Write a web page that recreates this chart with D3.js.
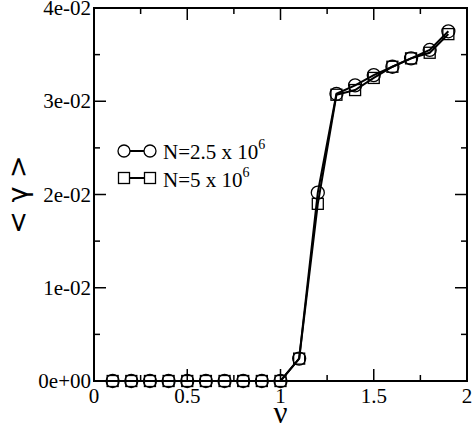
<!DOCTYPE html>
<html>
<head>
<meta charset="utf-8">
<script src="https://cdn.jsdelivr.net/npm/d3@7"></script>
<style>
  body { margin: 0; background: #fff; }
</style>
</head>
<body>
<div id="chart"></div>
<script>
// data
var nu = [0.1, 0.2, 0.3, 0.4, 0.5, 0.6, 0.7, 0.8, 0.9, 1.0, 1.1, 1.2, 1.3, 1.4, 1.5, 1.6, 1.7, 1.8, 1.9];
var gammaSmall = [0, 0, 0, 0, 0, 0, 0, 0, 0, 0, 0.0024, 0.0202, 0.0308, 0.0317, 0.0328, 0.0337, 0.0346, 0.0355, 0.0375];
var gammaLarge = [0, 0, 0, 0, 0, 0, 0, 0, 0, 0, 0.0024, 0.0190, 0.0307, 0.0312, 0.0325, 0.0337, 0.0346, 0.0352, 0.0372];
var xTicks = [0, 0.5, 1, 1.5, 2];
var yTicks = [0, 0.01, 0.02, 0.03, 0.04];
var yTickLabels = ["0e+00", "1e-02", "2e-02", "3e-02", "4e-02"];

var W = 474, H = 427;
var margin = {top: 8, right: 7, bottom: 46, left: 94},
    width = W - margin.left - margin.right,
    height = H - margin.top - margin.bottom;

var root = d3.select("#chart")
    .append("svg")
    .attr("width", W)
    .attr("height", H)
    .attr("font-family", "'Liberation Serif', 'Times New Roman', 'DejaVu Serif', serif");
var svg = root.append("g")
    .attr("transform", "translate(" + margin.left + "," + margin.top + ")");

var x = d3.scaleLinear().domain([0, 2]).range([0, width]);
var y = d3.scaleLinear().domain([0, 0.04]).range([height, 0]);

// frame
svg.append("rect")
    .attr("width", width).attr("height", height)
    .attr("fill", "none").attr("stroke", "#000").attr("stroke-width", 2);

// ticks, inward on all four sides
var xMinor = d3.range(0.25, 2, 0.5);
var yMinor = d3.range(0.005, 0.04, 0.01);
function tick(g, x1, y1, x2, y2) {
    g.append("line").attr("x1", x1).attr("y1", y1).attr("x2", x2).attr("y2", y2)
        .attr("stroke", "#000").attr("stroke-width", 1.5);
}
var tg = svg.append("g");
xTicks.slice(1, -1).forEach(function (t) {
    tick(tg, x(t), height, x(t), height - 12);
    tick(tg, x(t), 0, x(t), 12);
});
xMinor.forEach(function (t) {
    tick(tg, x(t), height, x(t), height - 6);
    tick(tg, x(t), 0, x(t), 6);
});
yTicks.slice(1, -1).forEach(function (t) {
    tick(tg, 0, y(t), 12, y(t));
    tick(tg, width, y(t), width - 12, y(t));
});
yMinor.forEach(function (t) {
    tick(tg, 0, y(t), 6, y(t));
    tick(tg, width, y(t), width - 6, y(t));
});

// tick labels
svg.selectAll(".xl").data(xTicks).enter().append("text")
    .attr("x", function (d) { return x(d); })
    .attr("y", height + 22)
    .attr("text-anchor", "middle")
    .attr("font-size", 21)
    .text(function (d) { return d3.format("")(d); });

svg.selectAll(".yl").data(yTicks).enter().append("text")
    .attr("x", -3)
    .attr("y", function (d) { return y(d) + 7; })
    .attr("text-anchor", "end")
    .attr("font-size", 21)
    .text(function (d, i) { return yTickLabels[i]; });

// axis titles
svg.append("text")
    .attr("x", x(1)).attr("y", height + 42)
    .attr("text-anchor", "middle")
    .attr("font-size", 31)
    .text("\u03bd");
svg.append("text")
    .attr("transform", "translate(" + (-67) + "," + y(0.02) + ") rotate(-90)")
    .attr("text-anchor", "middle")
    .attr("font-size", 27)
    .attr("font-family", "DejaVu Sans")
    .text("< \u03b3 >");

var line = d3.line()
    .x(function (d) { return x(d[0]); })
    .y(function (d) { return y(d[1]); });

var s1 = d3.zip(nu, gammaSmall);
var s2 = d3.zip(nu, gammaLarge);

svg.append("path").datum(s2).attr("d", line)
    .attr("fill", "none").attr("stroke", "#000").attr("stroke-width", 2);
svg.append("path").datum(s1).attr("d", line)
    .attr("fill", "none").attr("stroke", "#000").attr("stroke-width", 2);

svg.selectAll(".sq").data(s2).enter().append("rect")
    .attr("x", function (d) { return x(d[0]) - 5.5; })
    .attr("y", function (d) { return y(d[1]) - 5.5; })
    .attr("width", 11).attr("height", 11)
    .attr("fill", "none").attr("stroke", "#000").attr("stroke-width", 1.3);

svg.selectAll(".ci").data(s1).enter().append("circle")
    .attr("cx", function (d) { return x(d[0]); })
    .attr("cy", function (d) { return y(d[1]); })
    .attr("r", 6.5)
    .attr("fill", "none").attr("stroke", "#000").attr("stroke-width", 1.3);

// legend
var lg = svg.append("g").attr("transform", "translate(30,143)");
lg.append("line").attr("x1", 0).attr("x2", 26).attr("y1", 0).attr("y2", 0)
    .attr("stroke", "#000").attr("stroke-width", 2);
lg.selectAll("circle").data([0, 26]).enter().append("circle")
    .attr("cx", function (d) { return d; }).attr("cy", 0).attr("r", 6)
    .attr("fill", "#fff").attr("stroke", "#000").attr("stroke-width", 1.3);
lg.append("line").attr("x1", 0).attr("x2", 26).attr("y1", 27).attr("y2", 27)
    .attr("stroke", "#000").attr("stroke-width", 2);
lg.selectAll("rect").data([0, 26]).enter().append("rect")
    .attr("x", function (d) { return d - 5.5; }).attr("y", 21.5)
    .attr("width", 11).attr("height", 11)
    .attr("fill", "#fff").attr("stroke", "#000").attr("stroke-width", 1.3);

var t1 = lg.append("text").attr("x", 39).attr("y", 8).attr("font-size", 21);
t1.append("tspan").text("N=2.5 x 10");
t1.append("tspan").attr("dy", -10).attr("font-size", 14).text("6");
var t2 = lg.append("text").attr("x", 39).attr("y", 36).attr("font-size", 21);
t2.append("tspan").text("N=5 x 10");
t2.append("tspan").attr("dy", -10).attr("font-size", 14).text("6");
</script>
</body>
</html>
